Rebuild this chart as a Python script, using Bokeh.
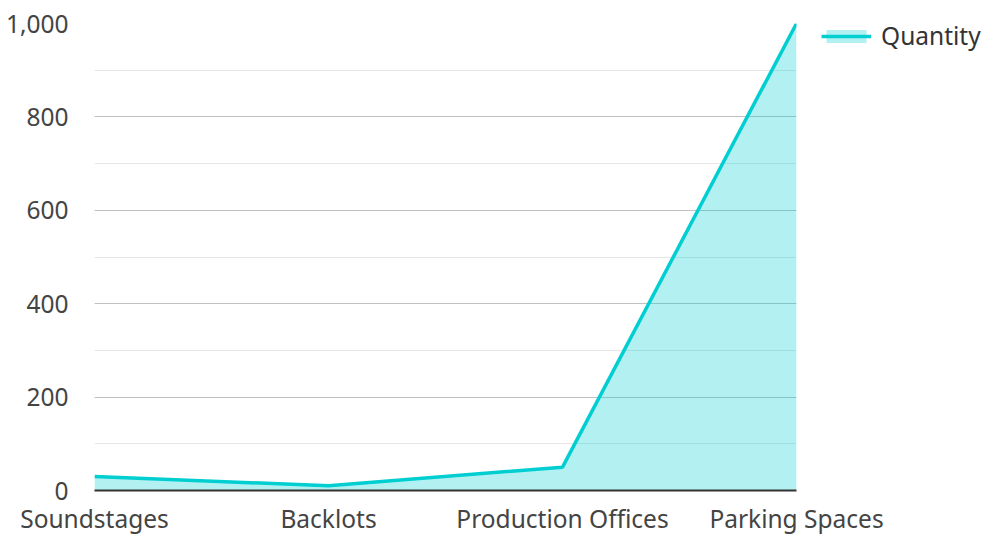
from bokeh.plotting import figure
from bokeh.models import Range1d, FixedTicker, SingleIntervalTicker, Legend, LegendItem, NumeralTickFormatter
from bokeh.embed import file_html
from bokeh.resources import INLINE

categories = ["Soundstages", "Backlots", "Production Offices", "Parking Spaces"]
quantity = [30, 10, 50, 1000]
series_name = "Quantity"

xs = list(range(len(categories)))

p = figure(frame_width=702, frame_height=467, output_backend="svg", toolbar_location=None,
           x_range=Range1d(0, len(categories) - 1), y_range=Range1d(0, 1000),
           min_border_left=94, min_border_right=165, min_border_top=23, min_border_bottom=10)

color = "#00CED1"
area = p.varea(x=xs, y1=[0] * len(xs), y2=quantity, fill_color=color, fill_alpha=0.3)
line = p.line(x=xs, y=quantity, line_color=color, line_width=3.5)

p.outline_line_color = None
p.background_fill_color = "white"

p.xaxis.ticker = FixedTicker(ticks=xs)
p.xaxis.major_label_overrides = {i: c for i, c in enumerate(categories)}
p.xaxis.axis_line_color = "#333333"
p.xaxis.axis_line_width = 2
p.xaxis.major_tick_line_color = None
p.xaxis.minor_tick_line_color = None
p.xaxis.major_label_standoff = 5

p.yaxis.ticker = SingleIntervalTicker(interval=200, num_minor_ticks=2)
p.yaxis.formatter = NumeralTickFormatter(format="0,0")
p.yaxis.axis_line_color = None
p.yaxis.major_tick_line_color = None
p.yaxis.minor_tick_line_color = None
p.yaxis.major_label_standoff = 20

for ax in (p.xaxis, p.yaxis):
    ax.major_label_text_font = "Noto Sans"
    ax.major_label_text_font_size = "24.5px"
    ax.major_label_text_color = "#444444"

p.xgrid.grid_line_color = None
p.ygrid.grid_line_color = "#c0c0c0"
p.ygrid.grid_line_width = 1
p.ygrid.minor_grid_line_color = "#e6e6e6"

legend = Legend(items=[LegendItem(label=series_name, renderers=[area, line])],
                location=(25, 438), border_line_color=None, background_fill_alpha=0,
                margin=0, padding=0, label_text_font="Noto Sans", label_text_font_size="24.5px",
                label_text_color="#333333", glyph_width=50, glyph_height=16,
                label_standoff=10)
p.add_layout(legend, "right")

open("out.html", "w").write(file_html(p, INLINE))
